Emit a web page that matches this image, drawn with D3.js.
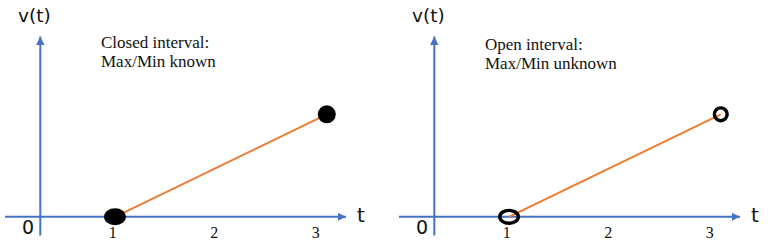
<!DOCTYPE html>
<html>
<head>
<meta charset="utf-8">
<script src="https://cdn.jsdelivr.net/npm/d3@7"></script>
<style>
  html, body { margin: 0; padding: 0; background: #fff; }
  svg { display: block; }
</style>
</head>
<body>
<svg id="chart" width="768" height="245"></svg>
<script>
// ---- data ----
const panels = ["closed", "open"];
const titles = [
  ["Closed interval:", "Max/Min known"],
  ["Open interval:", "Max/Min unknown"]
];
const tickValues = [1, 2, 3];
const tickLabels = ["1", "2", "3"];
const pointT = [1.027, 3.113];   // t of segment endpoints
const pointV = [0, 2];           // v(t) of segment endpoints
const originLabel = "0";
const xAxisLabel = "t";
const yAxisLabel = "v(t)";

// ---- layout ----
const W = 768, H = 245;
const panelOffset = [0, 394];
const textX = [101, 485];
const textY = [48, 50];
const axisBlue = "#4472C4";
const lineOrange = "#ED7D31";

const svg = d3.select("#chart");

const defs = svg.append("defs");
defs.append("marker")
  .attr("id", "arrow")
  .attr("viewBox", "0 0 10 10")
  .attr("refX", 10).attr("refY", 5)
  .attr("markerWidth", 4.2).attr("markerHeight", 4.2)
  .attr("markerUnits", "strokeWidth")
  .attr("orient", "auto")
  .append("path")
  .attr("d", "M0,0 L10,5 L0,10 Z")
  .attr("fill", axisBlue);

panels.forEach((kind, i) => {
  const off = panelOffset[i];
  const g = svg.append("g").attr("transform", `translate(${off},0)`);

  const x = d3.scaleLinear().domain([1, 3]).range([112.3, 315.3]);
  const y = d3.scaleLinear().domain([0, 2]).range([216.8, 114.3]);

  const yAxisX = 40.3;
  const x0 = y(0);

  // axes lines with arrows
  g.append("line")
    .attr("x1", 5).attr("y1", x0)
    .attr("x2", 346).attr("y2", x0)
    .attr("stroke", axisBlue).attr("stroke-width", 2)
    .attr("marker-end", "url(#arrow)");
  g.append("line")
    .attr("x1", yAxisX).attr("y1", 235.5)
    .attr("x2", yAxisX).attr("y2", 36.5)
    .attr("stroke", axisBlue).attr("stroke-width", 2)
    .attr("marker-end", "url(#arrow)");

  // tick labels via d3 axis
  const axis = d3.axisBottom(x)
    .tickValues(tickValues)
    .tickFormat((d, j) => tickLabels[j])
    .tickSize(0)
    .tickPadding(0);
  const ag = g.append("g")
    .attr("transform", `translate(0,${x0})`)
    .call(axis);
  ag.select(".domain").remove();
  ag.selectAll("text")
    .attr("dy", null)
    .attr("y", 20.8)
    .attr("font-family", "Liberation Serif, Times New Roman, serif")
    .attr("font-size", 16)
    .attr("fill", "#111");

  // axis labels
  g.append("text")
    .attr("x", 18).attr("y", 22)
    .attr("font-family", "DejaVu Sans, sans-serif")
    .attr("font-size", 18.5)
    .attr("fill", "#111")
    .text(yAxisLabel);
  g.append("text")
    .attr("x", 357).attr("y", 221.5)
    .attr("font-family", "DejaVu Sans, sans-serif")
    .attr("font-size", 20)
    .attr("fill", "#111")
    .text(xAxisLabel);
  g.append("text")
    .attr("x", 28).attr("y", 234)
    .attr("text-anchor", "middle")
    .attr("font-family", "DejaVu Sans, sans-serif")
    .attr("font-size", 19)
    .attr("fill", "#111")
    .text(originLabel);

  // annotation text
  const tt = svg.append("text")
    .attr("font-family", "Liberation Serif, Times New Roman, serif")
    .attr("font-size", 17)
    .attr("fill", "#111");
  titles[i].forEach((s, j) => {
    tt.append("tspan")
      .attr("x", textX[i])
      .attr("y", textY[i] + j * 18.6)
      .text(s);
  });

  // segment
  const pts = pointT.map((t, j) => ({ t, v: pointV[j], j }));
  g.append("path")
    .datum(pts)
    .attr("d", d3.line().x(d => x(d.t)).y(d => y(d.v)))
    .attr("fill", "none")
    .attr("stroke", lineOrange)
    .attr("stroke-width", 2);

  // endpoints
  if (kind === "closed") {
    g.selectAll("ellipse.pt")
      .data(pts)
      .join("ellipse")
      .attr("class", "pt")
      .attr("cx", d => x(d.t))
      .attr("cy", d => y(d.v))
      .attr("rx", d => d.j === 0 ? 11 : 9)
      .attr("ry", d => d.j === 0 ? 8.5 : 9)
      .attr("fill", "#000");
  } else {
    g.selectAll("ellipse.pt")
      .data(pts)
      .join("ellipse")
      .attr("class", "pt")
      .attr("cx", d => x(d.t))
      .attr("cy", d => y(d.v))
      .attr("rx", d => d.j === 0 ? 9.3 : 6.4)
      .attr("ry", d => d.j === 0 ? 6.4 : 6.4)
      .attr("fill", "none")
      .attr("stroke", "#000")
      .attr("stroke-width", 3.4);
  }
});
</script>
</body>
</html>
